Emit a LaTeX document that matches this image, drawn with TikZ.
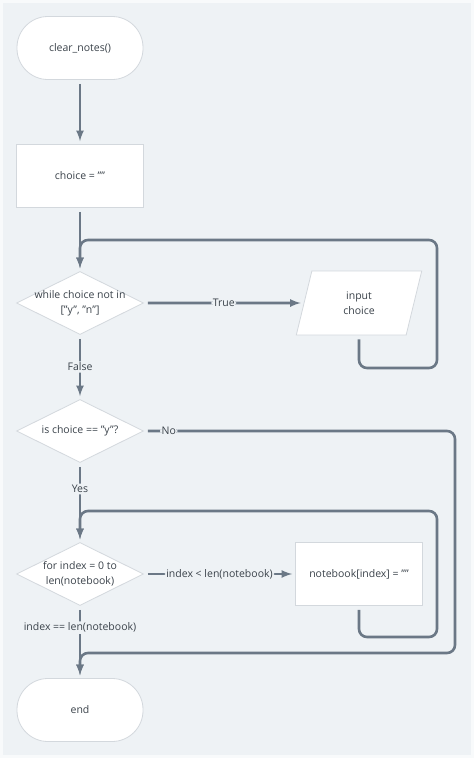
\documentclass[tikz,border=0pt]{standalone}
\usepackage{fontspec}
\setmainfont{Open Sans}
\usetikzlibrary{shapes.geometric}
\definecolor{bgcol}{HTML}{EEF2F5}
\definecolor{edgecol}{HTML}{F8FAFB}
\definecolor{linecol}{HTML}{6B7886}
\definecolor{bordcol}{HTML}{D3D8DD}
\definecolor{txtcol}{HTML}{3A424A}
\begin{document}
\begin{tikzpicture}[x=1pt,y=-1pt,
  base/.style={draw=bordcol,fill=white,line width=0.8pt,text=txtcol,font=\fontsize{10.5}{15}\selectfont,align=center},
  term/.style={base,rounded corners=31pt,minimum width=126pt,minimum height=63pt},
  proc/.style={base,minimum width=127pt,minimum height=63pt},
  decision/.style={base,diamond,aspect=2,inner sep=-8pt,minimum width=127pt,minimum height=63pt},
  io/.style={base,trapezium,trapezium left angle=78,trapezium right angle=102,trapezium stretches,minimum width=126pt,minimum height=64pt},
  flow/.style={draw=linecol,line width=2.6pt,rounded corners=8pt,shorten <=4pt,shorten >=3pt},
  lbl/.style={fill=bgcol,text=txtcol,font=\fontsize{10.5}{13}\selectfont,inner sep=1.5pt}]
  \fill[edgecol] (0,0) rectangle (474,758);
  \fill[bgcol] (3,3) rectangle (471,755);

  \node[term] (start) at (80,48) {clear\_notes()};
  \node[proc] (init) at (80,176) {choice = ""};
  \node[decision] (loop) at (80,303) {while choice not in\\{}["y", "n"]};
  \node[io] (ask) at (359,303) {input\\choice};
  \node[decision] (check) at (80,431) {is choice == "y"?};
  \node[decision] (forloop) at (80,574) {for index = 0 to\\len(notebook)};
  \node[proc] (clear) at (359,574) {notebook[index] = ""};
  \node[term] (stop) at (80,710) {end};

  \draw[flow,-latex] (start) -- (init);
  \draw[flow,-latex] (init) -- (loop);
  \draw[flow,-latex] (loop) -- node[lbl]{True} (ask);
  \draw[flow,-latex] (ask.south) |- (437,368) |- (80,240) -- (loop.north);
  \draw[flow,-latex] (loop) -- node[lbl]{False} (check);
  \draw[flow,-latex] (check.east) -- node[lbl,pos=0.08]{No} (455,431) |- (80,653) -- (stop.north);
  \draw[flow,-latex] (check) -- node[lbl,pos=0.33]{Yes} (forloop);
  \draw[flow,-latex] (forloop) -- node[lbl]{index < len(notebook)} (clear);
  \draw[flow,-latex] (clear.south) |- (437,637) |- (80,511) -- (forloop.north);
  \draw[flow,-latex] (forloop) -- node[lbl,pos=0.3]{index == len(notebook)} (stop);
\end{tikzpicture}
\end{document}
